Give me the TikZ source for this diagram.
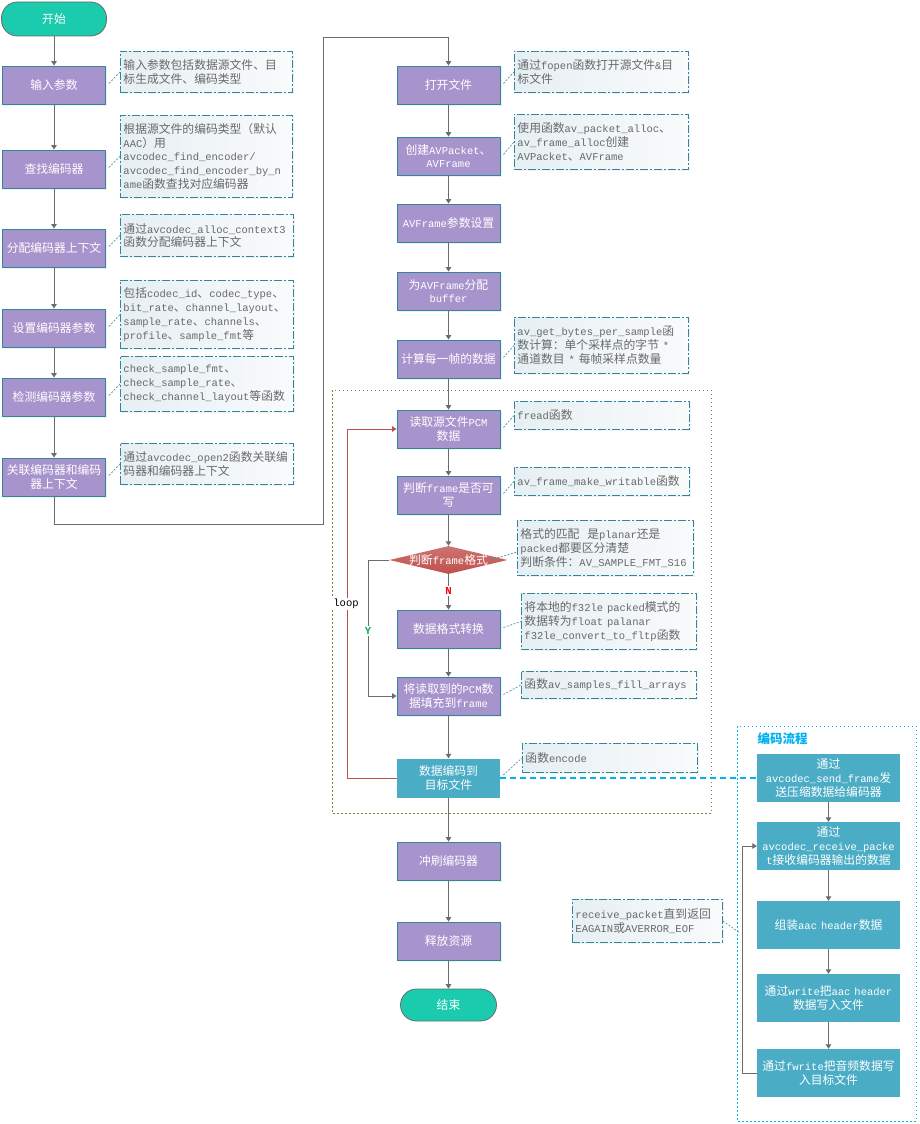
\documentclass[tikz,border=0pt]{standalone}
\usepackage{fontspec}
\newfontfamily\cjk{Noto Sans CJK SC}
\newfontfamily\mono{Liberation Mono}[Scale=0.89]
\usetikzlibrary{arrows.meta,shapes.geometric,shadows}
\newcommand\mt[1]{{\mono #1}}
\newcommand\bodyfont{\cjk\fontsize{11.8}{13.8}\selectfont}
\newcommand\boxfont{\cjk\fontsize{11.8}{13.6}\selectfont}
\definecolor{boxpurple}{RGB}{168,148,204}
\definecolor{boxborder}{RGB}{49,133,156}
\definecolor{termfill}{RGB}{26,203,174}
\definecolor{encfill}{RGB}{75,172,198}
\definecolor{redd}{RGB}{192,80,77}
\definecolor{linegray}{RGB}{108,108,108}
\definecolor{notel}{RGB}{230,239,243}
\definecolor{noter}{RGB}{249,251,252}
\definecolor{notetext}{RGB}{105,105,105}
\definecolor{cyanc}{RGB}{0,176,240}
\definecolor{olivec}{RGB}{118,134,62}
\definecolor{greenc}{RGB}{0,176,80}
\begin{document}
\begin{tikzpicture}[x=1pt,y=-1pt,
  every node/.style={font=\bodyfont},
  procbox/.style={rectangle, draw=boxborder, line width=0.9pt, fill=boxpurple, text=white,
    minimum width=103pt, minimum height=38pt, text width=101pt, align=center, inner sep=0pt,
    font=\boxfont, drop shadow={opacity=0.12,shadow xshift=1.5pt,shadow yshift=-1.5pt}},
  encbox/.style={rectangle, fill=encfill, text=white, minimum width=103pt, minimum height=39pt,
    text width=101pt, align=center, inner sep=0pt, font=\boxfont},
  rbox/.style={rectangle, fill=encfill, text=white, minimum width=143pt, minimum height=48pt,
    text width=141pt, align=center, inner sep=0pt, font=\boxfont},
  term/.style={rectangle, rounded corners=16pt, draw=linegray, line width=0.8pt, fill=termfill,
    text=white, inner sep=0pt, font=\boxfont},
  note/.style={rectangle, anchor=north west, draw=boxborder, line width=0.9pt,
    dash pattern=on 8pt off 2pt on 2pt off 2pt, left color=notel, right color=noter,
    text=notetext, align=left, inner xsep=3pt, inner ysep=0pt, font=\bodyfont,
    drop shadow={opacity=0.10,shadow xshift=1.5pt,shadow yshift=-1.5pt}},
  callout/.style={draw=boxborder!85, line width=0.7pt, dash pattern=on 2pt off 1.5pt},
  arr/.style={draw=linegray, line width=0.95pt, -{Triangle[width=5.5pt,length=4.5pt]}},
  redarr/.style={draw=redd, line width=0.95pt, -{Triangle[width=5.5pt,length=4.5pt]}},
  lbl/.style={fill=white, inner sep=1pt, font=\mono\fontsize{12}{13}\selectfont\bfseries}
]
\fill[white] (0,0) rectangle (919,1124);
\useasboundingbox (0,0) rectangle (919,1124);

% containers
\draw[olivec, line width=0.9pt, dash pattern=on 1.5pt off 2.5pt] (332,390) rectangle (711,813);
\draw[cyanc, line width=0.9pt, dash pattern=on 1.5pt off 2.5pt] (737,726) rectangle (916,1121);
\node[anchor=west, text=cyanc, font=\cjk\bfseries\fontsize{12.5}{14}\selectfont] (title) at (754,739) {编码流程};

% left column
\node[term, minimum width=105pt, minimum height=34pt] (start) at (54,19) {开始};
\node[procbox] (b1) at (54,85) {输入参数};
\node[procbox] (b2) at (54,169) {查找编码器};
\node[procbox] (b3) at (54,248) {分配编码器上下文};
\node[procbox] (b4) at (54,328) {设置编码器参数};
\node[procbox] (b5) at (54,397) {检测编码器参数};
\node[procbox] (b6) at (54,477) {关联编码器和编码\\器上下文};

\node[note, minimum height=41pt, text width=166pt] (n1) at (120,51) {输入参数包括数据源文件、目\\标生成文件、编码类型};
\node[note, minimum height=82pt, text width=166pt] (n2) at (120,115) {根据源文件的编码类型（默认\\\mt{AAC}）用\\\mt{avcodec\_find\_encoder/}\\\mt{avcodec\_find\_encoder\_by\_n}\\\mt{ame}函数查找对应编码器};
\node[note, minimum height=42pt, text width=167pt] (n3) at (120,214) {通过\mt{avcodec\_alloc\_context3}\\函数分配编码器上下文};
\node[note, minimum height=68pt, text width=167pt] (n4) at (120,280) {包括\mt{codec\_id}、\mt{codec\_type}、\\\mt{bit\_rate}、\mt{channel\_layout}、\\\mt{sample\_rate}、\mt{channels}、\\\mt{profile}、\mt{sample\_fmt}等};
\node[note, minimum height=55pt, text width=167pt] (n5) at (120,356) {\mt{check\_sample\_fmt}、\\\mt{check\_sample\_rate}、\\\mt{check\_channel\_layout}等函数};
\node[note, minimum height=41pt, text width=167pt] (n6) at (120,443) {通过\mt{avcodec\_open2}函数关联编\\码器和编码器上下文};

% middle column
\node[procbox] (c1) at (448.5,85) {打开文件};
\node[procbox] (c2) at (448.5,156) {创建\mt{AVPacket}、\\\mt{AVFrame}};
\node[procbox] (c3) at (448.5,223) {\mt{AVFrame}参数设置};
\node[procbox] (c4) at (448.5,291) {为\mt{AVFrame}分配\\\mt{buffer}};
\node[procbox] (c5) at (448.5,359) {计算每一帧的数据};
\node[procbox] (d1) at (448.5,429) {读取源文件\mt{PCM}\\数据};
\node[procbox] (d2) at (448.5,495) {判断\mt{frame}是否可\\写};
\node[diamond, aspect=4.2, minimum width=118pt, minimum height=28pt, inner sep=0pt,
  top color=redd!80!white, bottom color=redd, draw=none] (dia) at (448.5,560) {};
\node[text=white, inner sep=0pt, font=\boxfont] (diat) at (dia.center) {判断\mt{frame}格式};
\node[procbox] (d3) at (448.5,629) {数据格式转换};
\node[procbox] (d4) at (448.5,696) {将读取到的\mt{PCM}数\\据填充到\mt{frame}};
\node[encbox] (d5) at (448.5,778) {数据编码到\\目标文件};
\node[procbox] (e1) at (448.5,861) {冲刷编码器};
\node[procbox] (e2) at (448.5,941) {释放资源};
\node[term, minimum width=96pt, minimum height=32pt] (fin) at (448.5,1005) {结束};

\node[note, minimum height=41pt, text width=168pt] (m1) at (514,51) {通过\mt{fopen}函数打开源文件\mt{\&}目\\标文件};
\node[note, minimum height=55pt, text width=168pt] (m2) at (514,114) {使用函数\mt{av\_packet\_alloc}、\\\mt{av\_frame\_alloc}创建\\\mt{AVPacket}、\mt{AVFrame}};
\node[note, minimum height=56pt, text width=168pt] (m3) at (514,317) {\mt{av\_get\_bytes\_per\_sample}函\\数计算：单个采样点的字节 \mt{*}\\通道数目 \mt{*} 每帧采样点数量};
\node[note, minimum height=28pt, text width=169pt] (r1) at (514,401) {\mt{fread}函数};
\node[note, minimum height=28pt, text width=169pt] (r2) at (514,467) {\mt{av\_frame\_make\_writable}函数};
\node[note, minimum height=55pt, text width=170pt] (r3) at (517,520) {格式的匹配\ \ 是\mt{planar}还是\\\mt{packed}都要区分清楚\\判断条件：\mt{AV\_SAMPLE\_FMT\_S16}};
\node[note, minimum height=56pt, text width=169pt] (r4) at (521,593) {将本地的\mt{f32le packed}模式的\\数据转为\mt{float palanar}\\\mt{f32le\_convert\_to\_fltp}函数};
\node[note, minimum height=27pt, text width=169pt] (r5) at (521,671) {函数\mt{av\_samples\_fill\_arrays}};
\node[note, minimum height=29pt, text width=169pt] (r6) at (522,743) {函数\mt{encode}};

% right column
\node[rbox] (s1) at (828.5,778) {通过\\\mt{avcodec\_send\_frame}发\\送压缩数据给编码器};
\node[rbox] (s2) at (828.5,846) {通过\\\mt{avcodec\_receive\_packe}\\\mt{t}接收编码器输出的数据};
\node[rbox] (s3) at (828.5,925) {组装\mt{aac header}数据};
\node[rbox] (s4) at (828.5,998) {通过\mt{write}把\mt{aac header}\\数据写入文件};
\node[rbox] (s5) at (828.5,1073) {通过\mt{fwrite}把音频数据写\\入目标文件};
\node[note, minimum height=43pt, text width=144pt] (rn) at (572,899) {\mt{receive\_packet}直到返回\\\mt{EAGAIN}或\mt{AVERROR\_EOF}};

% callouts
\foreach \b/\n in {b1/n1,b2/n2,b3/n3,b4/n4,b5/n5,b6/n6,c1/m1,c2/m2,c5/m3,d1/r1,d2/r2,d3/r4,d4/r5}
  \draw[callout] ([xshift=3pt,yshift=1.5pt]\b.east) -- (\n.west);
\draw[callout] ([xshift=-17pt]dia.east) -- ([yshift=-4pt]r3.west);
\draw[callout] ([xshift=3pt,yshift=3pt]d5.east) -- (r6.west);
\coordinate (rc) at (740,933);
\draw[callout] (rn.east) -- (rc);

% left flow
\draw[arr] (start.south) -- (b1.north);
\draw[arr] (b1.south) -- (b2.north);
\draw[arr] (b2.south) -- (b3.north);
\draw[arr] (b3.south) -- (b4.north);
\draw[arr] (b4.south) -- (b5.north);
\draw[arr] (b5.south) -- (b6.north);
\coordinate (t1) at (323,524);
\coordinate (t2) at (323,37);
\draw[arr] (b6.south) |- (t1) -- (t2) -| (c1.north);

% middle flow
\draw[arr] (c1.south) -- (c2.north);
\draw[arr] (c2.south) -- (c3.north);
\draw[arr] (c3.south) -- (c4.north);
\draw[arr] (c4.south) -- (c5.north);
\draw[arr] (c5.south) -- (d1.north);
\draw[arr] (d1.south) -- (d2.north);
\draw[arr] (d2.south) -- (dia.north);
\draw[arr] (dia.south) -- (d3.north);
\draw[arr] (d3.south) -- (d4.north);
\draw[arr] (d4.south) -- (d5.north);
\draw[arr] (d5.south) -- (e1.north);
\draw[arr] (e1.south) -- (e2.north);
\draw[arr] (e2.south) -- (fin.north);

% Y branch
\coordinate (y1) at (368,560);
\draw[arr] (dia.west) -- (y1) |- (d4.west);
\node[lbl, text=greenc] (ylab) at (368,631) {Y};
\node[lbl, text=red] (nlab) at (448.5,591) {N};

% loop
\coordinate (l2) at (347,429);
\draw[redarr] (d5.west) -| (l2) -- (d1.west);
\node[fill=white, inner sep=1pt, font=\mono\fontsize{11.8}{13}\selectfont, text=black] (lp) at (346,604) {loop};

% encode link
\draw[cyanc, line width=1.1pt, dash pattern=on 6pt off 4pt] (d5.east) -- (s1.west);

% right flow
\draw[arr] (s1.south) -- (s2.north);
\draw[arr] (s2.south) -- (s3.north);
\draw[arr] (s3.south) -- (s4.north);
\draw[arr] (s4.south) -- (s5.north);
\coordinate (rl) at (742,846);
\draw[arr] (s5.west) -| (rl) -- (s2.west);
\end{tikzpicture}
\end{document}
